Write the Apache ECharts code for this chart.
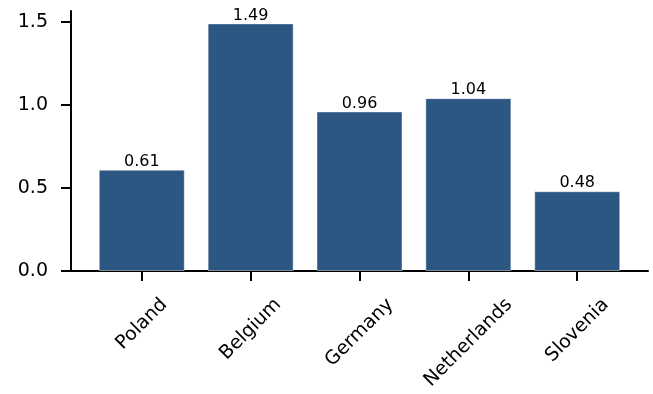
<!DOCTYPE html>
<html>
<head>
<meta charset="utf-8">
<script src="https://cdn.jsdelivr.net/npm/echarts@6/dist/echarts.min.js"></script>
<style>
html,body{margin:0;padding:0;background:#fff;}
#chart{width:653px;height:394px;}
</style>
</head>
<body>
<div id="chart"></div>
<script>
const categories = ['Poland', 'Belgium', 'Germany', 'Netherlands', 'Slovenia'];
const values = [0.61, 1.49, 0.96, 1.04, 0.48];
const yTicks = [0, 0.5, 1.0, 1.5];
const xTicks = [0, 1, 2, 3, 4];

const FONT = 'DejaVu Sans';
const TICK_FS = 19;
const barColor = '#2c5783';

const measureCtx = document.createElement('canvas').getContext('2d');
measureCtx.font = TICK_FS + 'px "' + FONT + '"';
function textWidth(t) { return measureCtx.measureText(t).width; }

const chart = echarts.init(document.getElementById('chart'), null, {renderer: 'canvas'});
const C = Math.SQRT1_2;

chart.setOption({
  animation: false,
  backgroundColor: '#ffffff',
  textStyle: {fontFamily: FONT},
  grid: {left: 71, right: 5, top: 11, bottom: 123, containLabel: false},
  xAxis: {
    type: 'value',
    min: -0.65,
    max: 4.65,
    axisLine: {show: true, onZero: false, lineStyle: {color: '#000', width: 2}},
    axisTick: {show: true, customValues: xTicks, length: 10, lineStyle: {color: '#000', width: 2}},
    axisLabel: {show: false},
    splitLine: {show: false}
  },
  yAxis: {
    type: 'value',
    min: 0,
    max: 1.5645,
    axisLine: {show: true, onZero: false, lineStyle: {color: '#000', width: 2}},
    axisTick: {show: true, customValues: yTicks, length: 10, lineStyle: {color: '#000', width: 2}},
    axisLabel: {
      customValues: yTicks,
      formatter: v => Number(v).toFixed(1),
      fontSize: TICK_FS, color: '#000', margin: 23, fontFamily: FONT
    },
    splitLine: {show: false}
  },
  series: [
    {
      type: 'bar',
      data: values.map((v, i) => [i, v]),
      barWidth: 86,
      itemStyle: {color: barColor, borderColor: 'rgba(255,255,255,0.45)', borderWidth: 1},
      label: {
        show: true, position: 'top', distance: 0,
        formatter: p => p.value[1].toFixed(2),
        fontSize: 16, color: '#000', fontFamily: FONT
      }
    },
    {
      type: 'custom',
      clip: false,
      silent: true,
      data: categories.map((c, i) => [xTicks[i], 0]),
      encode: {x: 0, y: 1},
      renderItem: function (params, api) {
        const i = params.dataIndex;
        const name = categories[i];
        const p = api.coord([api.value(0), 0]);
        const L = textWidth(name);
        const d = 24 + (L + TICK_FS) * C / 2;
        return {
          type: 'text',
          x: p[0],
          y: p[1] + d,
          rotation: Math.PI / 4,
          style: {
            text: name,
            fontSize: TICK_FS,
            fontFamily: FONT,
            fill: '#000',
            align: 'center',
            verticalAlign: 'middle'
          }
        };
      }
    }
  ]
});
</script>
</body>
</html>
